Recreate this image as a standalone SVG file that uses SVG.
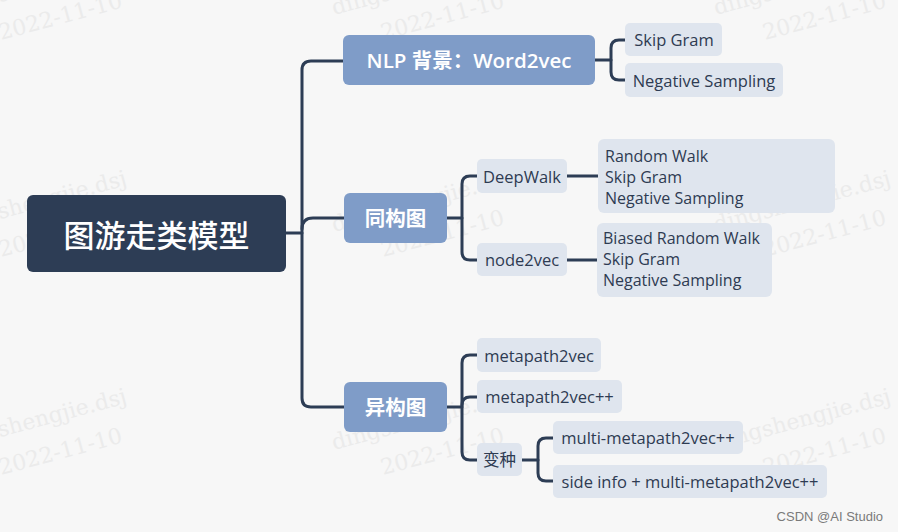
<svg xmlns="http://www.w3.org/2000/svg" xmlns:xlink="http://www.w3.org/1999/xlink" width="898" height="532" viewBox="0 0 898 532">
<defs>
<style>
.bg{fill:#f7f7f7}
.wm{font-family:"DejaVu Serif","Liberation Serif",serif;font-size:22px;fill:#ebebeb}
.root rect{fill:#2d3d55}
.root text{fill:#ffffff;font-family:"Noto Sans CJK SC",sans-serif;font-size:31px;font-weight:500}
.mid rect{fill:#7f9cc8}
.mid text{fill:#ffffff;font-family:"Open Sans","Noto Sans CJK SC",sans-serif;font-size:20.5px;font-weight:600}
.leaf rect{fill:#dfe5ee}
.leaf text{fill:#2e3b52;font-family:"Open Sans","Noto Sans CJK SC",sans-serif;font-size:16.5px}
.leaf text.ml{font-size:16px}
.c{text-anchor:middle;dominant-baseline:central}
#connectors path{fill:none;stroke:#2d3d55;stroke-width:3;stroke-linecap:round;stroke-linejoin:round}
.credit{font-family:"Liberation Sans",Arial,sans-serif;font-size:13px;fill:#7a7a7a}
</style>
<g id="wmark">
<text class="wm" x="-49" y="-25" transform="rotate(-15 -49 -25)">dingshengjie.dsj</text>
<text class="wm" x="0" y="0" transform="rotate(-15 0 0)">2022-11-10</text>
</g>
</defs>
<rect class="bg" x="0" y="0" width="898" height="532"/>
<g id="watermarks">
<use xlink:href="#wmark" x="1" y="40"/>
<use xlink:href="#wmark" x="383" y="40"/>
<use xlink:href="#wmark" x="765" y="40"/>
<use xlink:href="#wmark" x="1" y="257"/>
<use xlink:href="#wmark" x="383" y="257"/>
<use xlink:href="#wmark" x="765" y="257"/>
<use xlink:href="#wmark" x="1" y="475"/>
<use xlink:href="#wmark" x="383" y="475"/>
<use xlink:href="#wmark" x="765" y="475"/>
</g>
<g id="connectors">
<path d="M286,233 H302"/>
<path d="M344,61 H311 Q302,61 302,70 V398 Q302,407 311,407 H344"/>
<path d="M302,229 Q302,218 313,218 H344"/>
<path d="M595,60 H611"/>
<path d="M625,40 H619 Q611,40 611,48 V72 Q611,80 619,80 H625"/>
<path d="M447,218 H462"/>
<path d="M477,176 H470 Q462,176 462,184 V252 Q462,260 470,260 H477"/>
<path d="M567,176 H598"/>
<path d="M567,260 H597"/>
<path d="M447,407 H462"/>
<path d="M477,355 H470 Q462,355 462,363 V452 Q462,460 470,460 H477"/>
<path d="M462,405 Q462,397 470,397 H477"/>
<path d="M522,460 H538"/>
<path d="M553,438 H546 Q538,438 538,446 V473 Q538,481 546,481 H553"/>
</g>
<g id="root" class="root">
<rect x="27" y="195" width="259" height="77" rx="6"/>
<text class="c" x="156.5" y="233.5">图游走类模型</text>
</g>
<g id="nlp" class="mid">
<rect x="343" y="35" width="252" height="50" rx="6"/>
<text class="c" x="469" y="60">NLP 背景：Word2vec</text>
</g>
<g id="tonggou" class="mid">
<rect x="344" y="193" width="103" height="50" rx="6"/>
<text class="c" x="395.5" y="218">同构图</text>
</g>
<g id="yigou" class="mid">
<rect x="344" y="382" width="103" height="50" rx="6"/>
<text class="c" x="395.5" y="407">异构图</text>
</g>
<g id="skipgram1" class="leaf">
<rect x="625" y="23" width="97" height="33" rx="5"/>
<text class="c" x="674" y="39.5">Skip Gram</text>
</g>
<g id="negsamp1" class="leaf">
<rect x="625" y="63" width="158" height="34" rx="5"/>
<text class="c" x="704" y="80">Negative Sampling</text>
</g>
<g id="deepwalk" class="leaf">
<rect x="477" y="159" width="90" height="34" rx="5"/>
<text class="c" x="522" y="176">DeepWalk</text>
</g>
<g id="node2vec" class="leaf">
<rect x="477" y="243" width="90" height="33" rx="5"/>
<text class="c" x="522" y="259.5">node2vec</text>
</g>
<g id="deepwalk-detail" class="leaf">
<rect x="598" y="139" width="237" height="74" rx="6"/>
<text class="ml" x="605" y="161.5">Random Walk<tspan x="605" dy="21">Skip Gram</tspan><tspan x="605" dy="21">Negative Sampling</tspan></text>
</g>
<g id="node2vec-detail" class="leaf">
<rect x="597" y="223" width="175" height="74" rx="6"/>
<text class="ml" x="603" y="244">Biased Random Walk<tspan x="603" dy="21">Skip Gram</tspan><tspan x="603" dy="21">Negative Sampling</tspan></text>
</g>
<g id="metapath2vec" class="leaf">
<rect x="477" y="338" width="124" height="34" rx="5"/>
<text class="c" x="539" y="355">metapath2vec</text>
</g>
<g id="metapath2vecpp" class="leaf">
<rect x="477" y="380" width="145" height="33" rx="5"/>
<text class="c" x="549.5" y="396.5">metapath2vec++</text>
</g>
<g id="bianzhong" class="leaf">
<rect x="477" y="443" width="45" height="33" rx="5"/>
<text class="c" x="499.5" y="459.5">变种</text>
</g>
<g id="multi" class="leaf">
<rect x="553" y="421" width="190" height="33" rx="5"/>
<text class="c" x="648" y="437.5">multi-metapath2vec++</text>
</g>
<g id="sideinfo" class="leaf">
<rect x="553" y="465" width="274" height="33" rx="5"/>
<text class="c" x="690" y="481.5">side info + multi-metapath2vec++</text>
</g>
<text class="credit" x="883" y="521" text-anchor="end">CSDN @AI Studio</text>
</svg>
